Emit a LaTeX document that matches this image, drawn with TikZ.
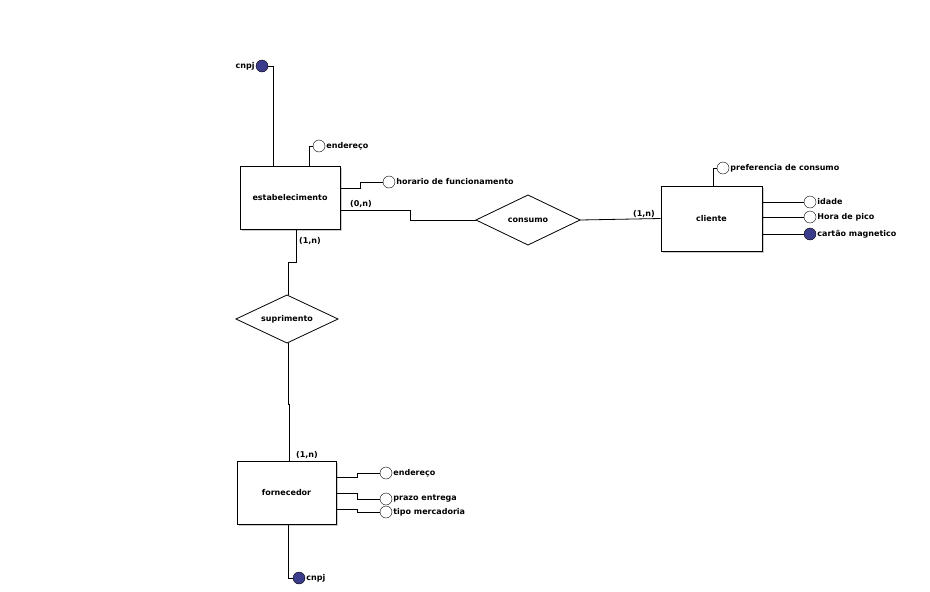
\documentclass[tikz,border=0pt]{standalone}
\usepackage{fontspec}
\setmainfont{DejaVu Sans}
\usetikzlibrary{shadows}
\begin{document}
\begin{tikzpicture}[x=1pt,y=-1pt,
  ent/.style={draw,thick,fill=white,minimum width=100pt,minimum height=63pt,inner sep=0pt,font=\bfseries\fontsize{8}{9}\selectfont,drop shadow={shadow xshift=2pt,shadow yshift=-2pt,fill=gray!40,opacity=1}},
  rel/.style={draw,fill=white,font=\bfseries\fontsize{8}{9}\selectfont},
  att/.style={circle,draw,fill=white,minimum size=12pt,inner sep=0pt},
  key/.style={att,fill={rgb,255:red,60;green,60;blue,140}},
  lbl/.style={font=\bfseries\fontsize{8}{9}\selectfont,inner sep=1pt},
  ln/.style={thick}]
\useasboundingbox (0,0) rectangle (930,592);
% entities
\node[ent] (est) at (290,197.5) {estabelecimento};
\node[ent,minimum width=101pt,minimum height=65pt] (cli) at (711.5,218.5) {cliente};
\node[ent,minimum width=99pt] (for) at (286.5,492.5) {fornecedor};
% relationships
\draw[ln,fill=white] (476,220) -- (528,195) -- (580,220) -- (528,245) -- cycle;
\node[lbl] (con) at (528,220) {consumo};
\coordinate (conL) at (476,220); \coordinate (conR) at (580,220);
\draw[ln,fill=white] (236,319) -- (287,295) -- (338,319) -- (287,343) -- cycle;
\node[lbl] (sup) at (287,319) {suprimento};
\coordinate (supT) at (287,295); \coordinate (supB) at (287,343);
% attributes estabelecimento
\node[key] (c1) at (262,66) {}; \node[lbl,anchor=east] at (c1.west) {cnpj};
\draw[ln] (c1.east) -| (273,166);
\node[att] (e1) at (319,146) {}; \node[lbl,anchor=west] at (e1.east) {endereço};
\draw[ln] (309,166) |- (e1.west);
\node[att] (h1) at (389,182) {}; \node[lbl,anchor=west] at (h1.east) {horario de funcionamento};
\draw[ln] (341,188) -- (360,188) -- (360,182) -- (h1.west);
% consumo links
\draw[ln] (341,210) -- (410,210) -- (410,220) -- (conL);
\node[lbl] at (361,204) {(0,n)};
\draw[ln] (conR) -- (cli.west);
\node[lbl] at (644,214) {(1,n)};
% cliente attributes
\node[att] (p1) at (723,168) {}; \node[lbl,anchor=west] at (p1.east) {preferencia de consumo};
\draw[ln] (713,186) |- (p1.west);
\node[att] (i1) at (810,202) {}; \node[lbl,anchor=west] at (i1.east) {idade};
\node[att] (hp) at (810,217) {}; \node[lbl,anchor=west] at (hp.east) {Hora de pico};
\node[key] (cm) at (810,234) {}; \node[lbl,anchor=west] at (cm.east) {cartão magnetico};
\draw[ln] (762,202) -- (i1.west);
\draw[ln] (762,217) -- (hp.west);
\draw[ln] (762,234) -- (cm.west);
% suprimento links
\draw[ln] (296,229) -- (296,262) -- (288,262) -- (288,295);
\node[lbl] at (310,241) {(1,n)};
\draw[ln] (288,343) -- (288,404) -- (289,404) -- (289,461);
\node[lbl] at (307,455) {(1,n)};
% fornecedor attributes
\node[att] (e2) at (386,473) {}; \node[lbl,anchor=west] at (e2.east) {endereço};
\node[att] (pz) at (386,499) {}; \node[lbl,anchor=west] at (pz.east) {prazo entrega};
\node[att] (tm) at (386,512) {}; \node[lbl,anchor=west] at (tm.east) {tipo mercadoria};
\draw[ln] (337,477) -- (357,477) -- (357,473) -- (e2.west);
\draw[ln] (337,493) -- (357,493) -- (357,499) -- (pz.west);
\draw[ln] (337,509) -- (357,509) -- (357,512) -- (tm.west);
\node[key] (c2) at (299,578) {}; \node[lbl,anchor=west] at (c2.east) {cnpj};
\draw[ln] (288,524) |- (c2.west);
\end{tikzpicture}
\end{document}
